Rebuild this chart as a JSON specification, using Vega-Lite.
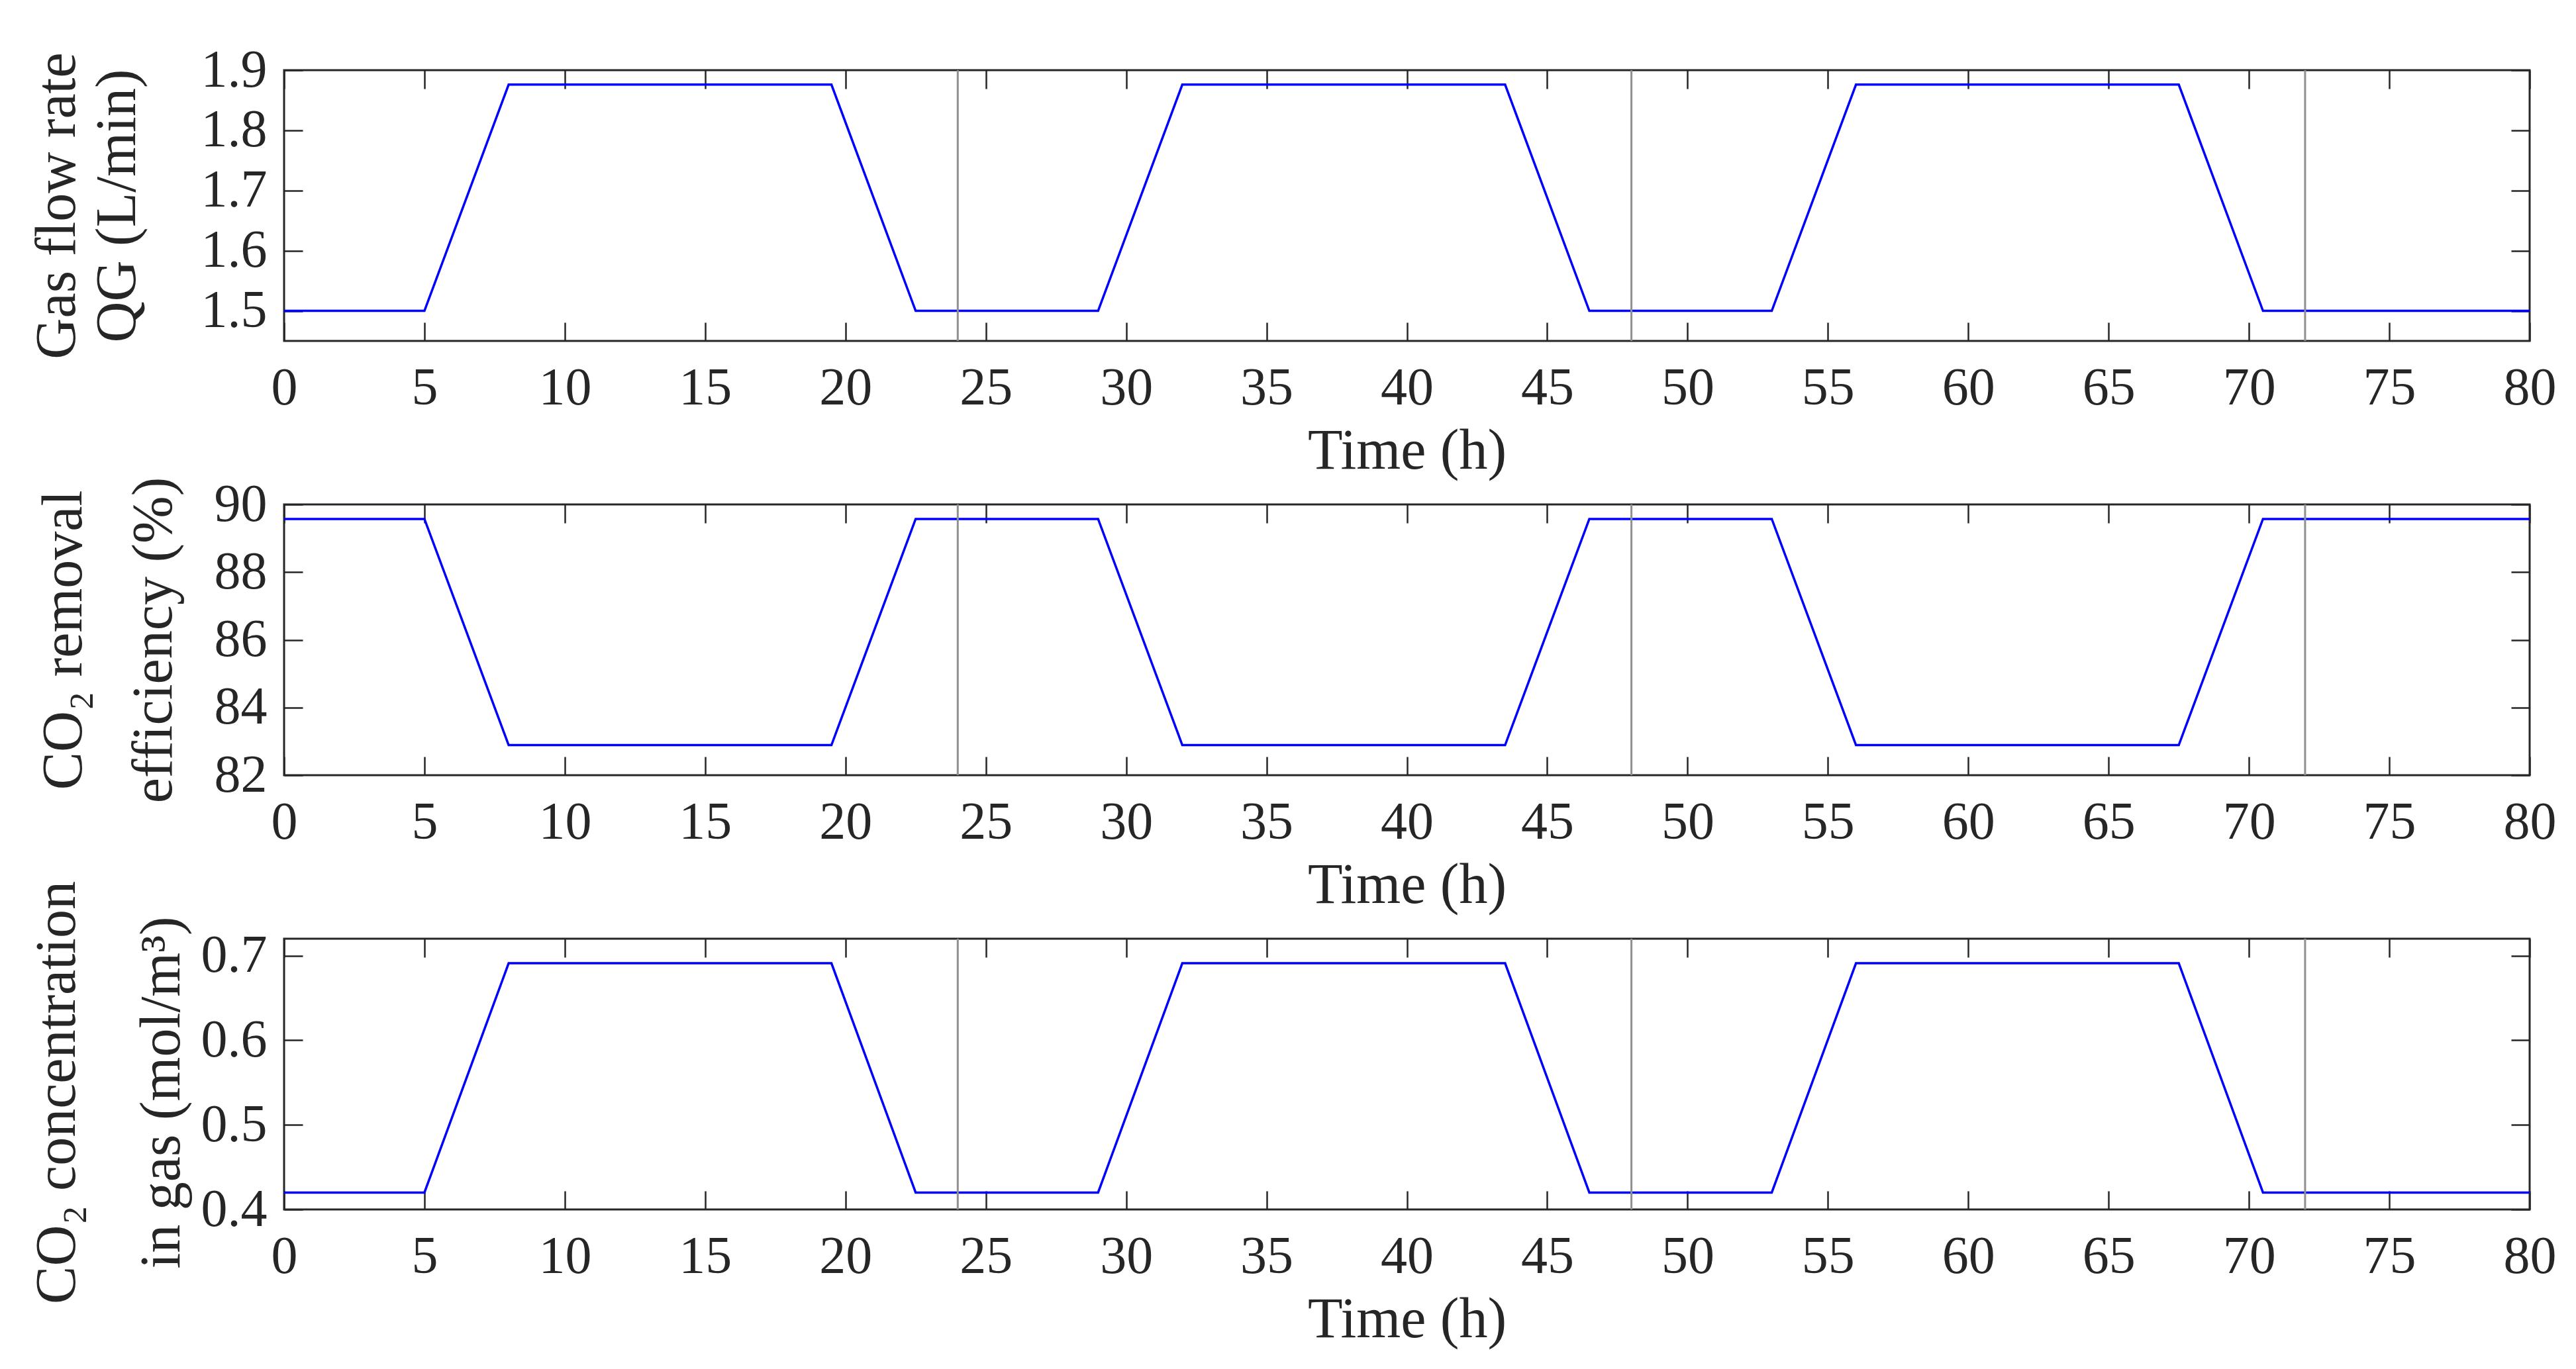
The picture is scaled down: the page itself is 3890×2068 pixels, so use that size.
{
  "$schema": "https://vega.github.io/schema/vega-lite/v6.json",
  "background": "white",
  "padding": {"left": 41, "top": 64, "right": 30, "bottom": 30},
  "datasets": {
    "series": [
      {"t": 0, "qg": 1.5, "eff": 89.57, "conc": 0.42},
      {"t": 5, "qg": 1.5, "eff": 89.57, "conc": 0.42},
      {"t": 8, "qg": 1.876, "eff": 82.89, "conc": 0.691},
      {"t": 19.5, "qg": 1.876, "eff": 82.89, "conc": 0.691},
      {"t": 22.5, "qg": 1.5, "eff": 89.57, "conc": 0.42},
      {"t": 29, "qg": 1.5, "eff": 89.57, "conc": 0.42},
      {"t": 32, "qg": 1.876, "eff": 82.89, "conc": 0.691},
      {"t": 43.5, "qg": 1.876, "eff": 82.89, "conc": 0.691},
      {"t": 46.5, "qg": 1.5, "eff": 89.57, "conc": 0.42},
      {"t": 53, "qg": 1.5, "eff": 89.57, "conc": 0.42},
      {"t": 56, "qg": 1.876, "eff": 82.89, "conc": 0.691},
      {"t": 67.5, "qg": 1.876, "eff": 82.89, "conc": 0.691},
      {"t": 70.5, "qg": 1.5, "eff": 89.57, "conc": 0.42},
      {"t": 80, "qg": 1.5, "eff": 89.57, "conc": 0.42}
    ],
    "days": [{"t": 24}, {"t": 48}, {"t": 72}]
  },
  "spacing": 247,
  "bounds": "flush",
  "vconcat": [
    {
      "width": 3391,
      "height": 409,
      "data": {"name": "series"},
      "layer": [
        {
          "mark": {"type": "line", "color": "#0000ff", "strokeWidth": 3.5},
          "encoding": {
            "x": {"field": "t", "type": "quantitative", "scale": {"domain": [0, 80], "nice": false},
                  "axis": {"values": [0,5,10,15,20,25,30,35,40,45,50,55,60,65,70,75,80], "format": "d", "title": "Time (h)"}},
            "y": {"field": "qg", "type": "quantitative", "scale": {"domain": [1.45, 1.9], "nice": false, "zero": false},
                  "axis": {"values": [1.5,1.6,1.7,1.8,1.9], "format": ".1f", "title": ["Gas flow rate", "QG (L/min)"], "titleX": -299, "titleLineHeight": 91}}
          }
        },
        {
          "mark": {"type": "line", "opacity": 0},
          "encoding": {
            "x": {"field": "t", "type": "quantitative", "scale": {"domain": [0, 80], "nice": false},
                  "axis": {"orient": "top", "labels": false, "title": null, "values": [0,5,10,15,20,25,30,35,40,45,50,55,60,65,70,75,80]}},
            "y": {"field": "qg", "type": "quantitative", "scale": {"domain": [1.45, 1.9], "nice": false, "zero": false},
                  "axis": {"orient": "right", "labels": false, "title": null, "values": [1.5,1.6,1.7,1.8,1.9]}}
          }
        },
        {
          "data": {"name": "days"},
          "mark": {"type": "rule", "color": "#909090", "strokeWidth": 3},
          "encoding": {"x": {"field": "t", "type": "quantitative", "scale": {"domain": [0, 80], "nice": false}, "axis": null}}
        }
      ],
      "resolve": {"axis": {"x": "independent", "y": "independent"}}
    },
    {
      "width": 3391,
      "height": 409,
      "data": {"name": "series"},
      "layer": [
        {
          "mark": {"type": "line", "color": "#0000ff", "strokeWidth": 3.5},
          "encoding": {
            "x": {"field": "t", "type": "quantitative", "scale": {"domain": [0, 80], "nice": false},
                  "axis": {"values": [0,5,10,15,20,25,30,35,40,45,50,55,60,65,70,75,80], "format": "d", "title": "Time (h)"}},
            "y": {"field": "eff", "type": "quantitative", "scale": {"domain": [82, 90], "nice": false, "zero": false},
                  "axis": {"values": [82,84,86,88,90], "format": "d", "title": ["CO₂ removal", "efficiency (%)"], "titleX": -289, "titleLineHeight": 136}}
          }
        },
        {
          "mark": {"type": "line", "opacity": 0},
          "encoding": {
            "x": {"field": "t", "type": "quantitative", "scale": {"domain": [0, 80], "nice": false},
                  "axis": {"orient": "top", "labels": false, "title": null, "values": [0,5,10,15,20,25,30,35,40,45,50,55,60,65,70,75,80]}},
            "y": {"field": "eff", "type": "quantitative", "scale": {"domain": [82, 90], "nice": false, "zero": false},
                  "axis": {"orient": "right", "labels": false, "title": null, "values": [82,84,86,88,90]}}
          }
        },
        {
          "data": {"name": "days"},
          "mark": {"type": "rule", "color": "#909090", "strokeWidth": 3},
          "encoding": {"x": {"field": "t", "type": "quantitative", "scale": {"domain": [0, 80], "nice": false}, "axis": null}}
        }
      ],
      "resolve": {"axis": {"x": "independent", "y": "independent"}}
    },
    {
      "width": 3391,
      "height": 409,
      "data": {"name": "series"},
      "layer": [
        {
          "mark": {"type": "line", "color": "#0000ff", "strokeWidth": 3.5},
          "encoding": {
            "x": {"field": "t", "type": "quantitative", "scale": {"domain": [0, 80], "nice": false},
                  "axis": {"values": [0,5,10,15,20,25,30,35,40,45,50,55,60,65,70,75,80], "format": "d", "title": "Time (h)"}},
            "y": {"field": "conc", "type": "quantitative", "scale": {"domain": [0.4, 0.72], "nice": false, "zero": false},
                  "axis": {"values": [0.4,0.5,0.6,0.7], "format": ".1f", "title": ["CO₂ concentration", "in gas (mol/m³)"], "titleX": -299, "titleY": 232, "titleLineHeight": 158}}
          }
        },
        {
          "mark": {"type": "line", "opacity": 0},
          "encoding": {
            "x": {"field": "t", "type": "quantitative", "scale": {"domain": [0, 80], "nice": false},
                  "axis": {"orient": "top", "labels": false, "title": null, "values": [0,5,10,15,20,25,30,35,40,45,50,55,60,65,70,75,80]}},
            "y": {"field": "conc", "type": "quantitative", "scale": {"domain": [0.4, 0.72], "nice": false, "zero": false},
                  "axis": {"orient": "right", "labels": false, "title": null, "values": [0.4,0.5,0.6,0.7]}}
          }
        },
        {
          "data": {"name": "days"},
          "mark": {"type": "rule", "color": "#909090", "strokeWidth": 3},
          "encoding": {"x": {"field": "t", "type": "quantitative", "scale": {"domain": [0, 80], "nice": false}, "axis": null}}
        }
      ],
      "resolve": {"axis": {"x": "independent", "y": "independent"}}
    }
  ],
  "config": {
    "view": {"stroke": "#262626", "strokeWidth": 3},
    "font": "Liberation Serif",
    "axis": {
      "grid": false,
      "domain": false,
      "ticks": true,
      "tickSize": -28,
      "tickWidth": 2.5,
      "tickColor": "#262626",
      "labelFont": "Liberation Serif",
      "labelFontSize": 80,
      "labelColor": "#262626",
      "labelFlush": false,
      "labelOverlap": false,
      "labelBound": false,
      "titleFont": "Liberation Serif",
      "titleFontSize": 86,
      "titleFontWeight": "normal",
      "titleColor": "#262626"
    },
    "axisBottom": {"labelPadding": 60, "titleY": 124},
    "axisLeft": {"labelPadding": 54, "titleBaseline": "bottom"}
  }
}
